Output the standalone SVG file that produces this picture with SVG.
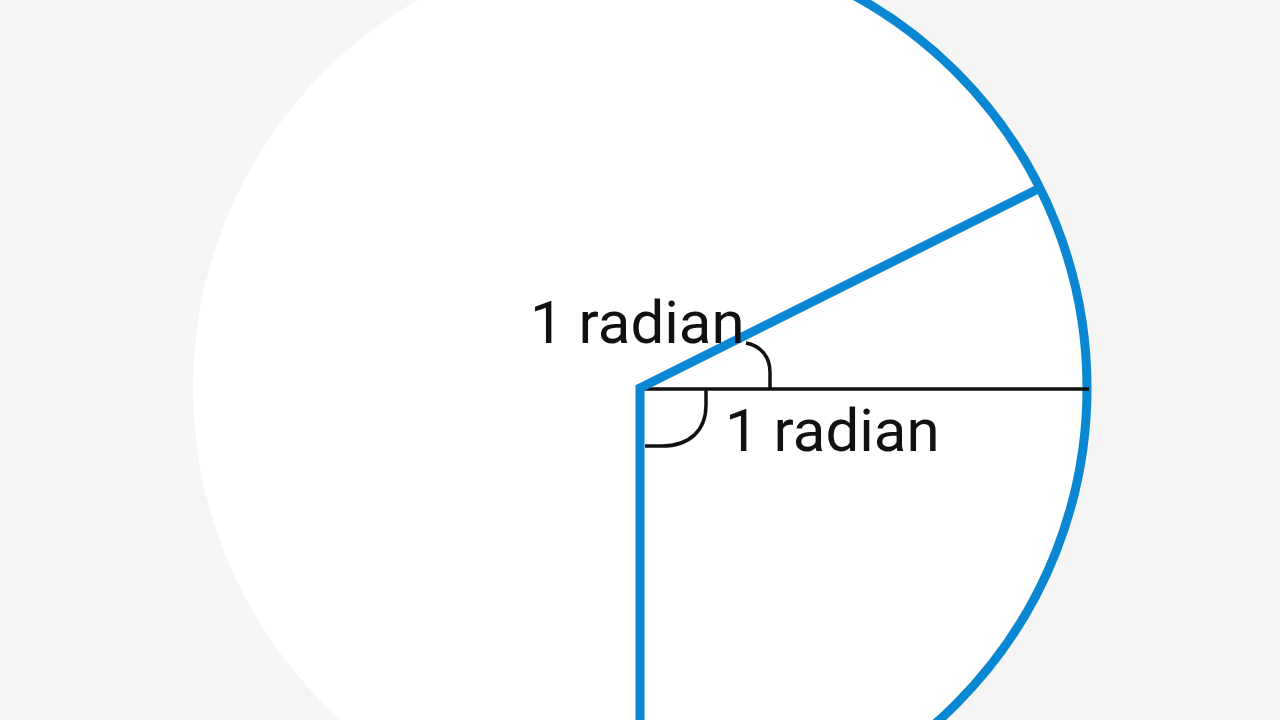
<svg xmlns="http://www.w3.org/2000/svg" width="1280" height="720" viewBox="0 0 1280 720">
<style>
.blue{fill:none;stroke:#0987d2;stroke-width:9;stroke-linejoin:miter}
.blk{fill:none;stroke:#111;stroke-width:3.5}
.lbl{font-family:Roboto,"Liberation Sans",sans-serif;font-size:60px;fill:#111}
</style>
<rect width="1280" height="720" fill="#f5f5f5"/>
<g id="circle">
<circle cx="640" cy="388" r="447" fill="#ffffff"/>
<path class="blue" d="M 640 -59 A 447 447 0 0 1 640 835"/>
</g>
<g id="connectors">
<line class="blk" x1="644" y1="389" x2="1089" y2="389"/>
<polyline class="blue" points="1040,188 640,388 640,730"/>
<path class="blk" d="M 746 343 C 762 346 770 358 770 372 L 770 389"/>
<path class="blk" d="M 706 389 L 706 405 C 706 430 690 446 662 446 L 645 446"/>
</g>
<g id="label-upper"><text class="lbl" x="530" y="343">1 radian</text></g>
<g id="label-lower"><text class="lbl" x="725" y="451">1 radian</text></g>
</svg>
